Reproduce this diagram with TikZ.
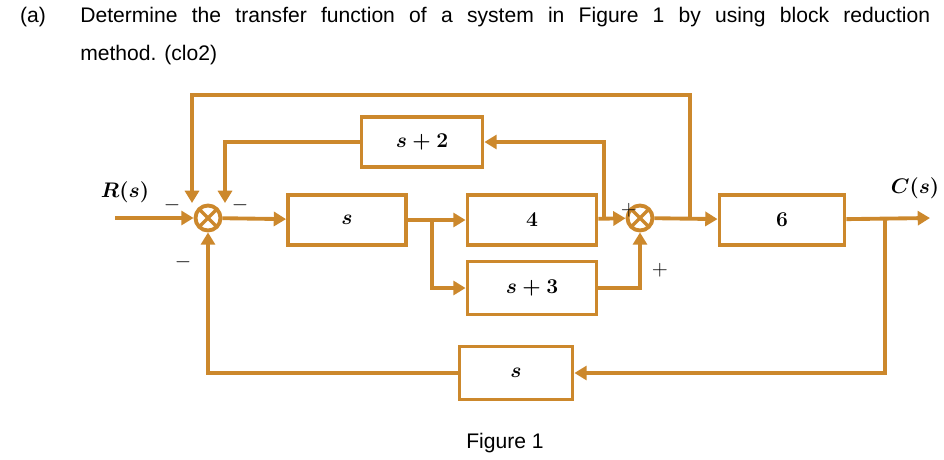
\documentclass[tikz,border=0pt]{standalone}
\usepackage{fontspec}
\setmainfont{Liberation Sans}
\usepackage{amsmath}
\usetikzlibrary{arrows.meta}
\definecolor{org}{RGB}{204,136,44}
\begin{document}
\begin{tikzpicture}[x=0.02cm,y=-0.02cm,
  blk/.style={draw=org,line width=2.2pt,minimum height=1cm,inner sep=0,font=\large\bfseries},
  sumj/.style={draw=org,line width=2.2pt,circle,minimum size=0.5cm,inner sep=0,path picture={\draw[org,line width=2pt] (path picture bounding box.north west)--(path picture bounding box.south east) (path picture bounding box.north east)--(path picture bounding box.south west);}},
  ln/.style={draw=org,line width=2.2pt},
  ar/.style={ln,-{Triangle[length=7pt,width=8pt]}},
  lab/.style={font=\large}]
\useasboundingbox (0,0) rectangle (944,460);
\node[lab,anchor=west] (ta) at (14,17) {(a)};
\node[lab,anchor=west,inner sep=0] (t1) at (80,17) {\makebox[17cm][s]{Determine the transfer function of a system in Figure 1 by using block reduction}};
\node[lab,anchor=west,inner sep=0] (t2) at (80,55) {method. (clo2)};
\node[sumj] (s1) at (208,218) {};
\node[sumj] (s2) at (640,218) {};
\node[blk,minimum width=2.36cm] (bs) at (347,220) {$\boldsymbol{s}$};
\node[blk,minimum width=2.58cm] (b4) at (532,220) {$\boldsymbol{4}$};
\node[blk,minimum width=2.42cm] (b2) at (422,142) {$\boldsymbol{s+2}$};
\node[blk,minimum width=2.58cm,minimum height=1.06cm] (b3) at (532,288) {$\boldsymbol{s+3}$};
\node[blk,minimum width=2.5cm] (b6) at (782,220) {$\boldsymbol{6}$};
\node[blk,minimum width=2.26cm,minimum height=1.06cm] (bf) at (516,373) {$\boldsymbol{s}$};
\coordinate (in) at (115,218);
\coordinate (out) at (930,218);
\node[font=\large] (R) at (125,192) {$\boldsymbol{R(s)}$};
\node[font=\large] (C) at (915,188) {$\boldsymbol{C(s)}$};
\draw[ar] (in) -- (s1);
\draw[ar] (s1) -- (bs);
\draw[ar] (bs) -- (b4);
\draw[ar] (432,218) |- (b3);
\draw[ar] (b4) -- (s2);
\draw[ar] (b3.east) -| (s2);
\draw[ar] (s2) -- (b6);
\draw[ar] (b6) -- (out);
\draw[ar] (604,218) |- (b2);
\draw[ar] (b2.west) -| (225,203);
\draw[ar] (690,218) |- (192,95) -- (192,203);
\draw[ar] (885,218) |- (bf);
\draw[ar] (bf.west) -| (s1);
\node[lab] (m1) at (172,205) {$-$};
\node[lab] (m2) at (240,205) {$-$};
\node[lab] (m3) at (183,262) {$-$};
\node[lab] (p1) at (629,210) {$+$};
\node[lab] (p2) at (660,270) {$+$};
\node[lab] (fig) at (505,443) {Figure 1};
\end{tikzpicture}
\end{document}
